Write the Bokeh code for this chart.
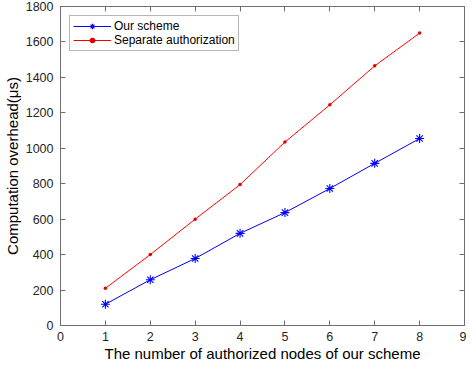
from bokeh.plotting import figure
from bokeh.models import LinearAxis, Range1d, FixedTicker, Legend, LegendItem, CustomJSTickFormatter
from bokeh.embed import file_html
from bokeh.resources import INLINE

nodes = [1, 2, 3, 4, 5, 6, 7, 8]
our_scheme = [120, 258, 378, 520, 637, 773, 915, 1055]
separate_auth = [210, 400, 600, 795, 1035, 1245, 1465, 1650]
x_ticks = [0, 1, 2, 3, 4, 5, 6, 7, 8, 9]
y_ticks = [0, 200, 400, 600, 800, 1000, 1200, 1400, 1600, 1800]

FONT = "Liberation Sans"
AX = "#6e6e6e"
TXT = "#262626"

p = figure(width=466, height=364, output_backend="svg", toolbar_location=None,
           x_range=Range1d(0, 9), y_range=Range1d(0, 1800),
           min_border_left=0, min_border_right=2, min_border_top=6, min_border_bottom=0)
p.xgrid.visible = False
p.ygrid.visible = False
p.outline_line_color = AX
p.background_fill_color = "white"

r1 = p.line(nodes, our_scheme, line_color="#0000ff", line_width=1)
m1 = p.scatter(nodes, our_scheme, marker="asterisk", size=9, line_color="#0000ff", line_width=1.1)
r2 = p.line(nodes, separate_auth, line_color="#ff0000", line_width=1)
m2 = p.scatter(nodes, separate_auth, marker="circle", size=3.5, fill_color="#e00000", line_color=None)

for ax in (p.xaxis[0], p.yaxis[0]):
    ax.major_tick_in = 5
    ax.major_tick_out = 0
    ax.minor_tick_line_color = None
    ax.axis_line_color = AX
    ax.major_tick_line_color = AX
    ax.major_label_text_font = FONT
    ax.major_label_text_font_size = "12.5px"
    ax.major_label_text_color = TXT
    ax.axis_label_text_font = FONT
    ax.axis_label_text_font_size = "15px"
    ax.axis_label_text_font_style = "normal"
    ax.axis_label_text_color = "black"

p.xaxis[0].ticker = FixedTicker(ticks=x_ticks)
p.yaxis[0].ticker = FixedTicker(ticks=y_ticks)
p.xaxis[0].axis_label = "The number of authorized nodes of our scheme"
p.yaxis[0].axis_label = "Computation overhead(μs)"
p.xaxis[0].major_label_standoff = 6
p.yaxis[0].major_label_standoff = 7
p.xaxis[0].axis_label_standoff = 1
p.yaxis[0].axis_label_standoff = 2

blank = CustomJSTickFormatter(code="return ''")
top = LinearAxis(ticker=FixedTicker(ticks=x_ticks), formatter=blank,
                 major_tick_in=5, major_tick_out=0, minor_tick_line_color=None,
                 axis_line_color=AX, major_tick_line_color=AX, major_label_standoff=0)
right = LinearAxis(ticker=FixedTicker(ticks=y_ticks), formatter=blank,
                   major_tick_in=5, major_tick_out=0, minor_tick_line_color=None,
                   axis_line_color=AX, major_tick_line_color=AX, major_label_standoff=0)
p.add_layout(top, "above")
p.add_layout(right, "right")

legend = Legend(items=[LegendItem(label="Our scheme", renderers=[r1, m1]),
                       LegendItem(label="Separate authorization", renderers=[r2, m2])],
                location="top_left")
legend.margin = 9
legend.padding = 3
legend.spacing = 0
legend.glyph_width = 38
legend.glyph_height = 14
legend.label_standoff = 3
legend.label_text_font = FONT
legend.label_text_font_size = "12px"
legend.label_text_color = "black"
legend.label_height = 14
legend.border_line_color = AX
legend.background_fill_alpha = 1
p.add_layout(legend)

open("out.html", "w").write(file_html(p, INLINE))
